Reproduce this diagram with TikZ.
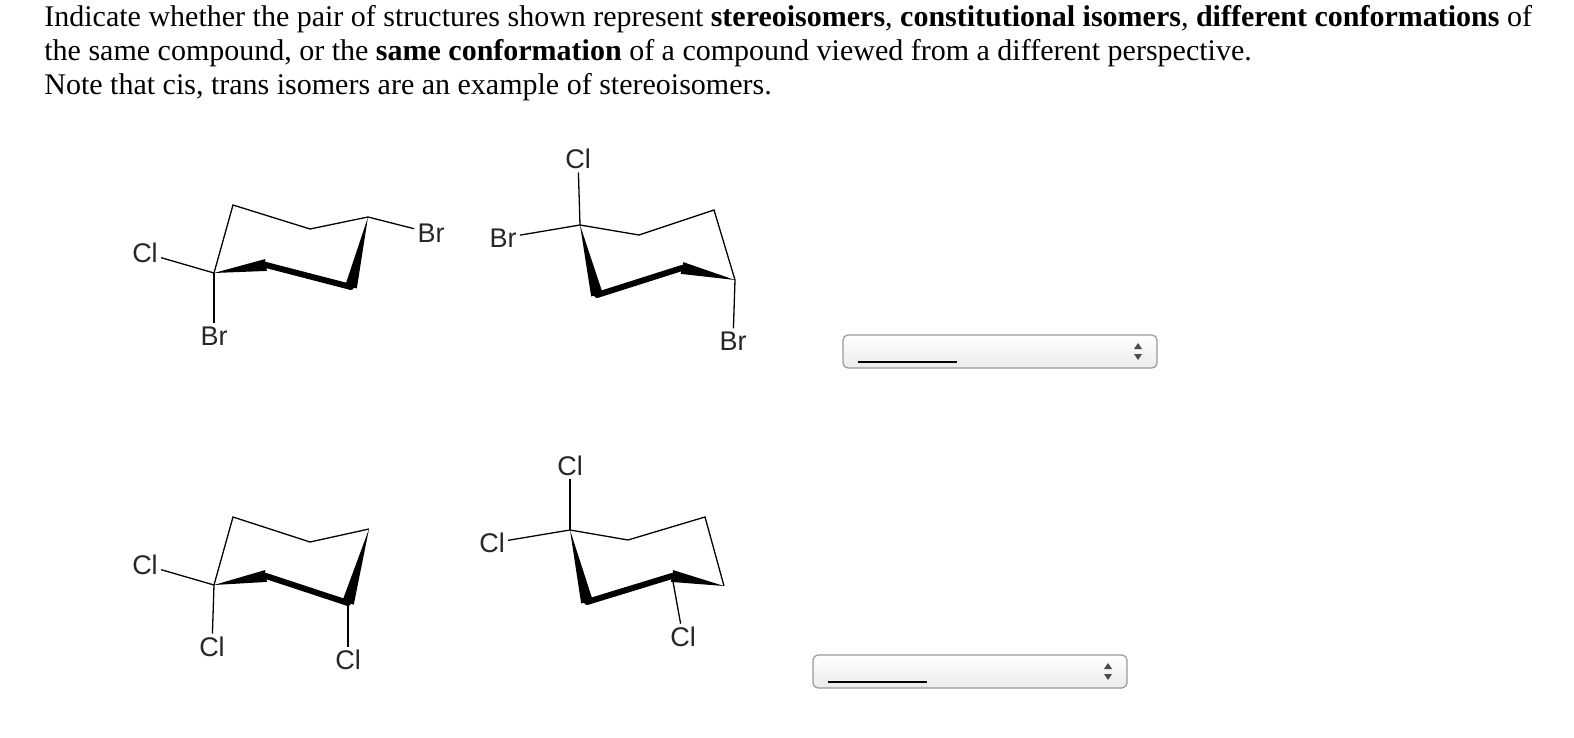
\documentclass[tikz,border=0pt]{standalone}
\usepackage{fontspec}
\setmainfont{Liberation Serif}
\newfontfamily\chemfont{Liberation Sans}
\usetikzlibrary{calc}
\begin{document}
\begin{tikzpicture}[x=0.5pt,y=-0.5pt,
  hdr/.style={anchor=base west,inner sep=0,font=\fontsize{15}{17}\selectfont},
  atom/.style={font=\chemfont\fontsize{13.5}{15}\selectfont,inner sep=1.5pt,text=black!85},
  bond/.style={line width=0.65pt},
  boldb/.style={line width=3pt,line cap=round},
  selbox/.style={draw=black!40,rounded corners=2.5pt,line width=0.6pt,top color=white,bottom color=black!8}]
\useasboundingbox (0,0) rectangle (1574,738);
\newcommand{\wedgeto}[3]{\fill (#1) -- ($(#2)!#3!90:(#1)$) -- ($(#2)!#3!-90:(#1)$) -- cycle;}
% header
\node[hdr] (l1) at (44,27) {Indicate whether the pair of structures shown represent \textbf{stereoisomers}, \textbf{constitutional isomers}, \textbf{different conformations} of};
\node[hdr] (l2) at (44,61) {the same compound, or the \textbf{same conformation} of a compound viewed from a different perspective.};
\node[hdr] (l3) at (44,95) {Note that cis, trans isomers are an example of stereoisomers.};
% ---- structure 1
\coordinate (a1) at (214,273); \coordinate (a2) at (233,205); \coordinate (a3) at (310,229);
\coordinate (a4) at (368,217); \coordinate (a5) at (351,287); \coordinate (a6) at (266,265);
\draw[bond] (a1) -- (a2) -- (a3) -- (a4);
\wedgeto{a1}{a6}{3pt}\wedgeto{a4}{a5}{3pt}
\draw[boldb] (a6) -- (a5);
\node[atom] (a1cl) at (145,253) {Cl};
\node[atom] (a1br) at (214,336) {Br};
\node[atom] (a4br) at (431,233) {Br};
\draw[bond] (a1) -- (a1cl); \draw[bond] (a1) -- (a1br); \draw[bond] (a4) -- (a4br);
% ---- structure 2
\coordinate (b1) at (580,225); \coordinate (b2) at (639,235); \coordinate (b3) at (714,210);
\coordinate (b4) at (735,280); \coordinate (b5) at (682,268); \coordinate (b6) at (597,295);
\draw[bond] (b1) -- (b2) -- (b3) -- (b4);
\wedgeto{b1}{b6}{3pt}\wedgeto{b4}{b5}{3pt}
\draw[boldb] (b5) -- (b6);
\node[atom] (b1cl) at (578,159) {Cl};
\node[atom] (b1br) at (503,238) {Br};
\node[atom] (b4br) at (733,341) {Br};
\draw[bond] (b1) -- (b1cl); \draw[bond] (b1) -- (b1br); \draw[bond] (b4) -- (b4br);
% ---- structure 3
\coordinate (c1) at (214,585); \coordinate (c2) at (233,517); \coordinate (c3) at (310,542);
\coordinate (c4) at (369,529); \coordinate (c5) at (348,603); \coordinate (c6) at (266,576);
\draw[bond] (c1) -- (c2) -- (c3) -- (c4);
\wedgeto{c1}{c6}{3pt}\wedgeto{c4}{c5}{3pt}
\draw[boldb] (c6) -- (c5);
\node[atom] (c1cla) at (145,565) {Cl};
\node[atom] (c1clb) at (212,647) {Cl};
\node[atom] (c5cl) at (348,660) {Cl};
\draw[bond] (c1) -- (c1cla); \draw[bond] (c1) -- (c1clb); \draw[bond] (c5) -- (c5cl);
% ---- structure 4
\coordinate (d1) at (570,530); \coordinate (d2) at (628,540); \coordinate (d3) at (705,517);
\coordinate (d4) at (724,586); \coordinate (d5) at (672,576); \coordinate (d6) at (587,602);
\draw[bond] (d1) -- (d2) -- (d3) -- (d4);
\wedgeto{d1}{d6}{3pt}\wedgeto{d4}{d5}{3pt}
\draw[boldb] (d5) -- (d6);
\node[atom] (d1cla) at (570,466) {Cl};
\node[atom] (d1clb) at (492,543) {Cl};
\node[atom] (d5cl) at (683,637) {Cl};
\draw[bond] (d1) -- (d1cla); \draw[bond] (d1) -- (d1clb); \draw[bond] (d5) -- (d5cl);
% ---- dropdowns
\foreach \n/\x/\y in {s1/843/335, s2/813/655}{
  \shade[selbox] (\x,\y) rectangle ++(314,33);
  \draw[line width=0.8pt] (\x+15,\y+27) -- ++(99,0);
  \fill[black!70] (\x+291,\y+14) -- ++(8,0) -- ++(-4,-6) -- cycle;
  \fill[black!70] (\x+291,\y+19) -- ++(8,0) -- ++(-4,6) -- cycle;
}
\end{tikzpicture}
\end{document}
